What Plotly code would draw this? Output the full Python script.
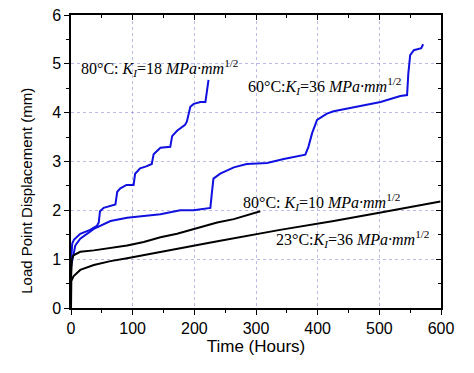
import plotly.graph_objects as go

# 80°C, KI = 18 (blue, upper)
t_80_18 = [0, 1, 2, 5, 15, 31, 37, 42, 45, 47, 53, 62, 72, 75, 80, 90, 101.5, 104, 112, 122, 131, 134, 145, 161, 164, 172, 180, 185, 188, 193.5, 199, 210, 218, 220, 223]
d_80_18 = [0.95, 1.2, 1.32, 1.4, 1.52, 1.6, 1.65, 1.68, 1.75, 1.98, 2.05, 2.08, 2.12, 2.38, 2.45, 2.52, 2.52, 2.75, 2.86, 2.9, 2.95, 3.15, 3.28, 3.3, 3.52, 3.63, 3.7, 3.75, 3.82, 4.12, 4.18, 4.22, 4.22, 4.45, 4.67]

# 60°C, KI = 36 (blue, lower)
t_60_36 = [0, 1.5, 3, 7, 15, 37, 64, 91, 145, 177, 199, 226, 228, 231, 242, 264, 285, 318, 345, 380, 385, 391, 399, 415, 426, 453, 480, 502, 534, 545, 547, 550, 556, 568, 571]
d_60_36 = [0.85, 0.95, 1.05, 1.28, 1.42, 1.62, 1.78, 1.85, 1.92, 2.0, 2.0, 2.05, 2.3, 2.65, 2.75, 2.88, 2.95, 2.97, 3.05, 3.14, 3.3, 3.58, 3.85, 3.98, 4.03, 4.1, 4.16, 4.22, 4.34, 4.36, 4.8, 5.18, 5.28, 5.32, 5.4]

# 80°C, KI = 10 (black, upper)
t_80_10 = [0, 1.5, 4, 15, 37, 64, 91, 118, 145, 172, 199, 210, 237, 264, 307]
d_80_10 = [0.6, 1.0, 1.08, 1.15, 1.18, 1.23, 1.28, 1.35, 1.45, 1.52, 1.62, 1.66, 1.75, 1.82, 1.98]

# 23°C, KI = 36 (black, lower)
t_23_36 = [0, 0.5, 4, 15, 37, 64, 91, 145, 199, 231, 339, 426, 500, 599]
d_23_36 = [0.0, 0.55, 0.65, 0.78, 0.88, 0.96, 1.02, 1.15, 1.28, 1.35, 1.6, 1.78, 1.95, 2.18]

labels = [
    "80°C: <i>K</i><sub><i>I</i></sub>=18 <i>MPa·mm</i><sup>1/2</sup>",
    "60°C:<i>K</i><sub><i>I</i></sub>=36 <i>MPa·mm</i><sup>1/2</sup>",
    "80°C: <i>K</i><sub><i>I</i></sub>=10 <i>MPa·mm</i><sup>1/2</sup>",
    "23°C:<i>K</i><sub><i>I</i></sub>=36 <i>MPa·mm</i><sup>1/2</sup>",
]
label_x = [13.5, 284, 275, 329]
label_y = [4.91, 4.55, 2.18, 1.42]

x_title = "Time (Hours)"
y_title = "Load Point Displacement (mm)"

BLUE = "#1010e0"
fig = go.Figure()
for t, d, c in [(t_80_18, d_80_18, BLUE), (t_60_36, d_60_36, BLUE),
                (t_80_10, d_80_10, "black"), (t_23_36, d_23_36, "black")]:
    fig.add_trace(go.Scatter(x=t, y=d, mode="lines", line=dict(color=c, width=2),
                             showlegend=False, hoverinfo="skip"))
fig.add_trace(go.Scatter(x=[], y=[], xaxis="x2", yaxis="y2", showlegend=False))

for txt, x, y in zip(labels, label_x, label_y):
    fig.add_annotation(x=x, y=y, text=txt, showarrow=False, xanchor="left", yanchor="middle",
                       font=dict(family="Liberation Serif", size=16, color="black"))

# y-axis title (placed slightly below the plot's vertical centre, as in the reference)
fig.add_annotation(xref="paper", yref="paper", x=-0.119, y=0.40, text=y_title, textangle=-90,
                   showarrow=False, xanchor="center", yanchor="middle",
                   font=dict(family="Liberation Sans", size=15, color="black"))

grid = dict(showgrid=True, gridcolor="rgba(120,120,210,0.5)", griddash="dot", gridwidth=1)
tickfont = dict(family="Liberation Sans", size=16, color="black")
fig.update_layout(
    width=474, height=373,
    margin=dict(l=71, r=33, t=7, b=65),
    plot_bgcolor="white", paper_bgcolor="white",
    xaxis=dict(range=[0, 600], dtick=100, tick0=0, ticks="outside", ticklen=5, tickwidth=1.3,
               tickcolor="black", showline=True, linecolor="black", linewidth=1.5, mirror=True,
               zeroline=False, tickfont=tickfont,
               minor=dict(dtick=50, ticks="outside", ticklen=3, tickcolor="black", showgrid=False),
               title=dict(text=x_title, font=dict(family="Liberation Sans", size=17, color="black"), standoff=4),
               **grid),
    yaxis=dict(range=[0, 6], dtick=1, tick0=0, ticks="outside", ticklen=5, tickwidth=1.3,
               tickcolor="black", showline=True, linecolor="black", linewidth=1.5, mirror=True,
               zeroline=False, tickfont=tickfont,
               minor=dict(dtick=0.5, ticks="outside", ticklen=3, tickcolor="black", showgrid=False),
               **grid),
    xaxis2=dict(range=[0, 600], overlaying="x", side="top", dtick=100, tick0=0, ticks="inside",
                ticklen=5, tickwidth=1.3, tickcolor="black", showticklabels=False, showgrid=False,
                zeroline=False, minor=dict(dtick=50, ticks="inside", ticklen=3, tickcolor="black")),
    yaxis2=dict(range=[0, 6], overlaying="y", side="right", dtick=1, tick0=0, ticks="inside",
                ticklen=5, tickwidth=1.3, tickcolor="black", showticklabels=False, showgrid=False,
                zeroline=False, minor=dict(dtick=0.5, ticks="inside", ticklen=3, tickcolor="black")),
)
fig.write_html("out.html")
